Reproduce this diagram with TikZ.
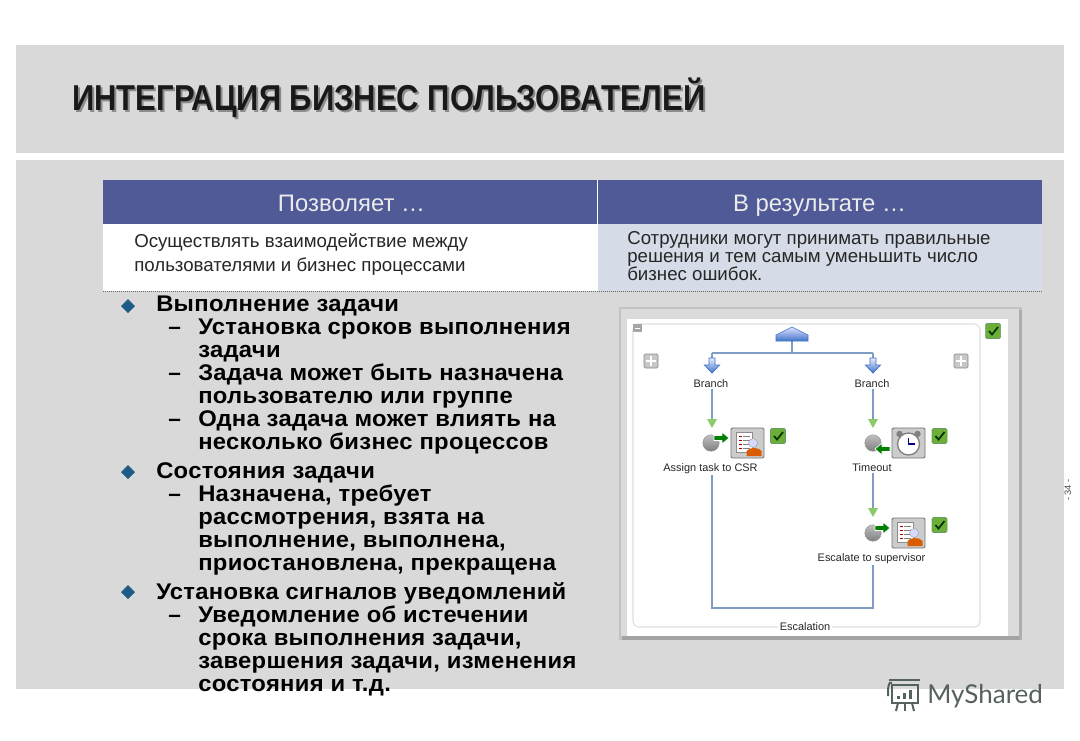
\documentclass[tikz,border=0pt]{standalone}
\usepackage{fontspec}
\setmainfont{Liberation Sans}
\newfontfamily\logofont{Lato}
\newfontfamily\bodyfont[LetterSpace=1.3,FakeStretch=1.05,BoldFont={Liberation Sans Bold}]{Liberation Sans}
\definecolor{panel}{HTML}{D9D9D9}
\definecolor{headblue}{HTML}{4F5A97}
\definecolor{cellblue}{HTML}{D6DBE8}
\definecolor{bullet}{HTML}{1D5C84}
\definecolor{flow}{HTML}{7F9DC4}
\definecolor{arrowgreen}{HTML}{8CCB6A}
\definecolor{checkgreen}{HTML}{6DAE38}
\definecolor{logogray}{HTML}{56625F}
\definecolor{blockblue}{HTML}{3F74C8}
\tikzset{
  x=0.75pt,y=-0.75pt,
  panelbox/.style={fill=panel,draw=none},
  bodyhead/.style={anchor=base west,inner sep=0,font=\bodyfont\fontsize{17}{20}\selectfont\bfseries,text=black},
  bodysub/.style={anchor=base west,inner sep=0,font=\bodyfont\fontsize{17}{20}\selectfont\bfseries,text=black},
  dashmark/.style={anchor=base west,inner sep=0,font=\fontsize{17}{20}\selectfont\bfseries},
  headtext/.style={anchor=base,font=\fontsize{17.9}{20}\selectfont,text=white!92!black,inner sep=0},
  celltext/.style={anchor=base west,inner sep=0,font=\fontsize{14}{16}\selectfont,text=black!85},
  flowtext/.style={anchor=base,font=\fontsize{8.2}{10}\selectfont,inner sep=1pt,text=black!85},
  flowline/.style={draw=flow,line width=0.8pt},
  diamondmark/.style={fill=bullet,draw=none},
}
\newcommand{\bulletmark}[2]{\fill[diamondmark] (#1,#2-7) -- (#1+7,#2) -- (#1,#2+7) -- (#1-7,#2) -- cycle;}
\newcommand{\checkbox}[2]{%
  \fill[checkgreen,draw=green!35!black!60,line width=0.4pt,rounded corners=1pt] (#1-7.5,#2-7.5) rectangle (#1+7.5,#2+7.5);
  \draw[black!80!green,line width=1.3pt] (#1-4,#2) -- (#1-1,#2+3.5) -- (#1+5,#2-4);}
\newcommand{\plusbox}[2]{%
  \fill[black!22,draw=black!45,line width=0.5pt,rounded corners=1pt] (#1-7,#2-7) rectangle (#1+7,#2+7);
  \fill[white] (#1-5,#2-1) rectangle (#1+5,#2+1);
  \fill[white] (#1-1,#2-5) rectangle (#1+1,#2+5);}
\newcommand{\downblock}[2]{%
  \shade[top color=blue!8!white,bottom color=blockblue,draw=blockblue,line width=0.6pt]
   (#1-3,#2-7) -- (#1+3,#2-7) -- (#1+3,#2) -- (#1+7.5,#2) -- (#1,#2+8) -- (#1-7.5,#2) -- (#1-3,#2) -- cycle;}
\newcommand{\greentip}[2]{\fill[arrowgreen] (#1-5,#2-5) -- (#1+5,#2-5) -- (#1,#2+4) -- cycle;}
\newcommand{\greyball}[2]{\shade[top color=black!25,bottom color=black!50,draw=black!45,line width=0.3pt] (#1,#2) circle[radius=8.2];}
\newcommand{\rightgreen}[2]{%
  \fill[green!50!black,draw=white,line width=0.5pt] (#1-7,#2-2.5) -- (#1+1,#2-2.5) -- (#1+1,#2-6) -- (#1+8,#2) -- (#1+1,#2+6) -- (#1+1,#2+2.5) -- (#1-7,#2+2.5) -- cycle;}
\newcommand{\leftgreen}[2]{%
  \fill[green!50!black,draw=white,line width=0.5pt] (#1+7,#2-2.5) -- (#1-1,#2-2.5) -- (#1-1,#2-6) -- (#1-8,#2) -- (#1-1,#2+6) -- (#1-1,#2+2.5) -- (#1+7,#2+2.5) -- cycle;}
\newcommand{\iconframe}[2]{%
  \draw[black!55,fill=black!20,rounded corners=1pt,line width=0.7pt] (#1-16.5,#2-15) rectangle (#1+16.5,#2+15);}
\newcommand{\taskicon}[2]{%
  \iconframe{#1}{#2}
  \fill[white,draw=black!45,line width=0.3pt] (#1-11,#2-11) rectangle (#1+5,#2+9);
  \foreach \dy in {-7,-3,1,5}{\draw[red!70!black,line width=0.5pt] (#1-9,#2+\dy) -- (#1-6,#2+\dy);
     \draw[black!50,line width=0.4pt] (#1-5,#2+\dy) -- (#1+2,#2+\dy);}
  \fill[orange!85!red!85!black] (#1-1,#2+13) -- (#1-1,#2+8) .. controls (#1+2,#2+4) and (#1+11,#2+4) .. (#1+14,#2+8) -- (#1+14,#2+13) -- cycle;
  \fill[blue!15!white,draw=black!40,line width=0.3pt] (#1+5.5,#2+0) circle[radius=4.5];}
\newcommand{\clockicon}[2]{%
  \iconframe{#1}{#2}
  \fill[black!50] (#1-9,#2-9) circle[radius=3.2];
  \fill[black!50] (#1+9,#2-9) circle[radius=3.2];
  \fill[white,draw=black!50,line width=1pt] (#1,#2+1) circle[radius=11];
  \draw[blue!55!black,line width=0.9pt] (#1,#2-5) -- (#1,#2+1) -- (#1+6,#2+1);}
\begin{document}
\begin{tikzpicture}
\useasboundingbox (0,0) rectangle (1080,740);
\fill[white] (0,0) rectangle (1080,740);
\fill[panelbox] (16,45) rectangle (1064,153);
\fill[panelbox] (16,160) rectangle (1064,689);

% title
\node[anchor=base west,inner sep=0,text=black!45] (titleshadow) at (74,112.5)
  {\fontsize{27}{30}\selectfont\bfseries\scalebox{.86}[1]{ИНТЕГРАЦИЯ БИЗНЕС ПОЛЬЗОВАТЕЛЕЙ}};
\node[anchor=base west,inner sep=0,text=black!90] (title) at (72,110.5)
  {\fontsize{27}{30}\selectfont\bfseries\scalebox{.86}[1]{ИНТЕГРАЦИЯ БИЗНЕС ПОЛЬЗОВАТЕЛЕЙ}};

% page number
\node[rotate=90,inner sep=0,font=\fontsize{7}{8}\selectfont,text=black!70] (pagenum) at (1068,490) {- 34 -};

% table
\fill[headblue] (103,180) rectangle (1042,224);
\fill[white] (103,224) rectangle (597,291);
\fill[cellblue] (597,224) rectangle (1042,291);
\draw[white,line width=0.8pt] (597.5,180) -- (597.5,291);
\draw[black!60,densely dotted,line width=0.5pt] (103,291.5) -- (1042,291.5);
\node[headtext] (headleft) at (351.5,211) {Позволяет …};
\node[headtext] (headright) at (819.5,211) {В результате …};
\node[celltext] (c1) at (134,247) {Осуществлять взаимодействие между};
\node[celltext] (c2) at (134,271) {пользователями и бизнес процессами};
\node[celltext] (c3) at (627,244) {Сотрудники могут принимать правильные};
\node[celltext] (c4) at (627,262) {решения и тем самым уменьшить число};
\node[celltext] (c5) at (627,280) {бизнес ошибок.};

% bullets
\bulletmark{128}{306}
\bulletmark{128}{472}
\bulletmark{128}{592}
\node[bodyhead] (h1) at (156,311) {Выполнение задачи};
\node[dashmark] (d1) at (168,334) {–};
\node[bodysub] (s1) at (198,334) {Установка сроков выполнения};
\node[bodysub] (s2) at (198,357) {задачи};
\node[dashmark] (d2) at (168,380) {–};
\node[bodysub] (s3) at (198,380) {Задача может быть назначена};
\node[bodysub] (s4) at (198,403) {пользователю или группе};
\node[dashmark] (d3) at (168,426) {–};
\node[bodysub] (s5) at (198,426) {Одна задача может влиять на};
\node[bodysub] (s6) at (198,449) {несколько бизнес процессов};
\node[bodyhead] (h2) at (156,478) {Состояния задачи};
\node[dashmark] (d4) at (168,501) {–};
\node[bodysub] (s7) at (198,501) {Назначена, требует};
\node[bodysub] (s8) at (198,524) {рассмотрения, взята на};
\node[bodysub] (s9) at (198,547) {выполнение, выполнена,};
\node[bodysub] (s10) at (198,570) {приостановлена, прекращена};
\node[bodyhead] (h3) at (156,599) {Установка сигналов уведомлений};
\node[dashmark] (d5) at (168,622) {–};
\node[bodysub] (s11) at (198,622) {Уведомление об истечении};
\node[bodysub] (s12) at (198,645) {срока выполнения задачи,};
\node[bodysub] (s13) at (198,668) {завершения задачи, изменения};
\node[bodysub] (s14) at (198,691) {состояния и т.д.};

% screenshot
\fill[black!24] (619,307) rectangle (1022,640);
\fill[black!36] (622,634) rectangle (1022,640);
\fill[black!32] (1019,310) rectangle (1022,640);
\fill[black!14] (621,309) rectangle (1019,636);
\fill[white] (627,319) rectangle (1008,636);
\draw[black!12,rounded corners=4pt,line width=0.8pt] (633,324) rectangle (980,627);
\fill[black!35] (632.5,324) rectangle (641.5,332);
\fill[white] (634.5,327.5) rectangle (639.5,328.5);
\checkbox{993}{331}
\plusbox{651}{361}
\plusbox{961}{361}

% flow coordinates
\coordinate (topbase) at (792,341);
\coordinate (splitc) at (792,353);
\coordinate (splitl) at (712,353);
\coordinate (splitr) at (873,353);
\coordinate (loopl) at (712,608);
\coordinate (loopr) at (873,608);
\coordinate (tip1) at (712,421);
\coordinate (tip2) at (873,421);
\coordinate (tip3) at (873,510);

\node[flowtext] (branchl) at (711,387) {Branch};
\node[flowtext] (branchr) at (872,387) {Branch};
\node[flowtext] (assign) at (710.5,471.5) {Assign task to CSR};
\node[flowtext] (timeout) at (872,471.5) {Timeout};
\node[flowtext] (escalate) at (871.5,561) {Escalate to supervisor};
\node[flowtext,fill=white,inner sep=1.5pt] (escalation) at (805,630) {Escalation};

\draw[flowline] (topbase) -- (splitc);
\draw[flowline] (splitl) -- (splitr);
\draw[flowline] (splitl) -- (712,360);
\draw[flowline] (splitr) -- (873,360);
\draw[flowline] (branchl.south -| tip1) -- (tip1);
\draw[flowline] (branchr.south -| tip2) -- (tip2);
\draw[flowline] (timeout.south -| tip3) -- (tip3);
\draw[flowline] (assign.south -| loopl) -- (loopl) -- (loopr) -- (escalate.south -| loopr);

% top node
\shade[top color=blue!12!white,bottom color=blockblue,draw=blockblue,line width=0.4pt]
  (776,341) -- (776,335) -- (792,327) -- (808,335) -- (808,341) -- cycle;

\downblock{712}{365}
\downblock{873}{365}
\greentip{712}{424}
\greentip{873}{424}
\greentip{873}{513}

\greyball{711}{443}
\rightgreen{721}{438}
\taskicon{747.5}{443}
\checkbox{778}{436}

\greyball{873}{443}
\leftgreen{883}{449}
\clockicon{908.5}{443}
\checkbox{939.5}{436}

\greyball{873}{533}
\rightgreen{882}{528}
\taskicon{908.5}{533}
\checkbox{939.5}{525}

% logo
\begin{scope}[logogray,line width=1.5pt]
\draw (892,683) .. controls (888,680) and (888,690) .. (888,696);
\draw (889,680) -- (920,680);
\draw (892,685) rectangle (918,703);
\draw (898,703) -- (896,711);
\draw (905,703) -- (905,711);
\draw (912,703) -- (914,711);
\fill (897,696) rectangle (900,699);
\fill (903,693) rectangle (906,699);
\fill (909,690) rectangle (912,699);
\end{scope}
\node[anchor=base west,inner sep=0,text=logogray,font=\logofont\fontsize{19.5}{22}\selectfont] (logo) at (927,703) {MyShared};
\end{tikzpicture}
\end{document}
